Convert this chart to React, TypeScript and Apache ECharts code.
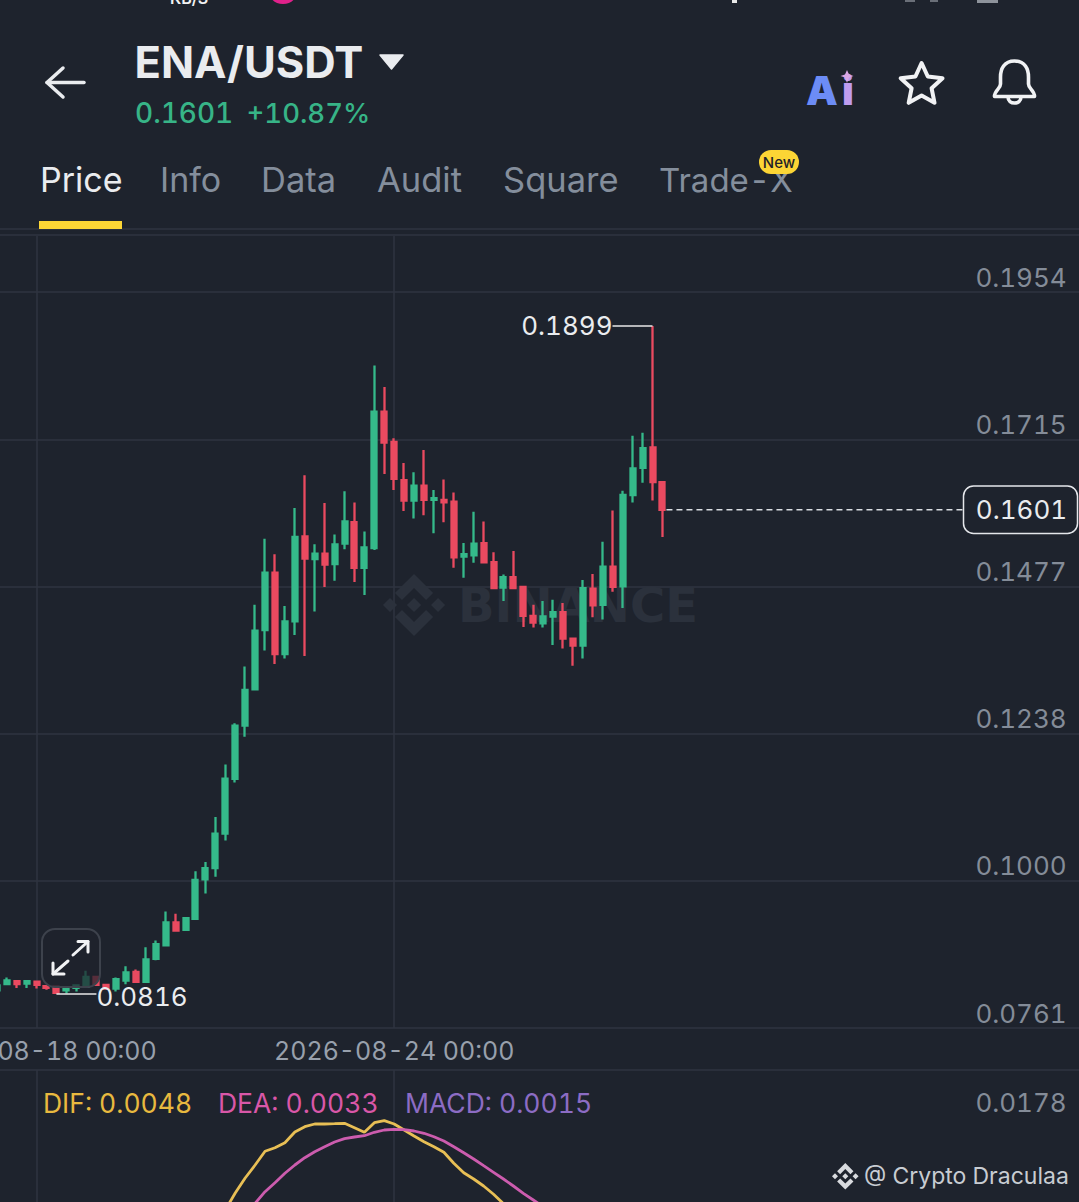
import React, { useEffect, useRef } from "react";
import * as echarts from "echarts";

const WIDTH = 1079;
const HEIGHT = 1202;
const BG = "#1E232D";
const LINE = "#2F3540";
const UP = "#35B98A";
const DOWN = "#EA4A60";
const AXIS_TEXT = "#848C98";
const FONT = "Inter";

// [open, close, low, high], one candle every 4 hours
const ohlc: number[][] = [
  [0.0822, 0.083, 0.0821, 0.083],
  [0.0832, 0.0838, 0.0832, 0.0843],
  [0.0837, 0.0832, 0.0826, 0.0838],
  [0.0833, 0.0837, 0.0826, 0.0837],
  [0.0836, 0.0831, 0.0825, 0.0837],
  [0.0829, 0.0826, 0.0823, 0.083],
  [0.0828, 0.0818, 0.0816, 0.0829],
  [0.0822, 0.0826, 0.0817, 0.0826],
  [0.0826, 0.083, 0.082, 0.083],
  [0.0828, 0.0844, 0.0827, 0.0854],
  [0.0844, 0.0831, 0.083, 0.0844],
  [0.0831, 0.0825, 0.0824, 0.0832],
  [0.0825, 0.084, 0.082, 0.0843],
  [0.0838, 0.0851, 0.0832, 0.0861],
  [0.0852, 0.0836, 0.0835, 0.0856],
  [0.0836, 0.0872, 0.0836, 0.0892],
  [0.0873, 0.0897, 0.0871, 0.0903],
  [0.0895, 0.0932, 0.0895, 0.095],
  [0.0932, 0.0919, 0.0917, 0.0946],
  [0.092, 0.0939, 0.092, 0.094],
  [0.0938, 0.1001, 0.0938, 0.1015],
  [0.1002, 0.102, 0.0979, 0.103],
  [0.102, 0.1076, 0.1006, 0.1103],
  [0.1076, 0.1165, 0.1065, 0.1188],
  [0.1165, 0.1251, 0.1159, 0.1255],
  [0.1251, 0.1309, 0.1233, 0.1347],
  [0.131, 0.1405, 0.131, 0.1447],
  [0.1406, 0.1499, 0.1373, 0.1554],
  [0.1499, 0.1367, 0.1351, 0.1529],
  [0.1367, 0.142, 0.136, 0.1445],
  [0.142, 0.1557, 0.1398, 0.1604],
  [0.1558, 0.1522, 0.1364, 0.1657],
  [0.1521, 0.153, 0.1436, 0.1545],
  [0.153, 0.1512, 0.1476, 0.1612],
  [0.1513, 0.1545, 0.1486, 0.1561],
  [0.1546, 0.1582, 0.1537, 0.1631],
  [0.1581, 0.1507, 0.1484, 0.1613],
  [0.1507, 0.154, 0.1463, 0.1566],
  [0.1539, 0.176, 0.1536, 0.1835],
  [0.176, 0.171, 0.1659, 0.18],
  [0.1711, 0.1651, 0.1633, 0.1717],
  [0.1649, 0.1616, 0.1599, 0.1677],
  [0.1616, 0.164, 0.1587, 0.1662],
  [0.164, 0.1617, 0.1592, 0.1698],
  [0.1617, 0.162, 0.1563, 0.1633],
  [0.1617, 0.1613, 0.1581, 0.165],
  [0.1614, 0.1524, 0.1507, 0.1629],
  [0.1525, 0.1529, 0.1491, 0.1547],
  [0.1527, 0.1546, 0.1515, 0.1598],
  [0.1547, 0.1516, 0.1515, 0.1582],
  [0.1516, 0.1474, 0.1472, 0.1532],
  [0.1475, 0.1492, 0.1453, 0.1496],
  [0.1492, 0.1474, 0.1472, 0.1534],
  [0.1476, 0.1429, 0.1411, 0.1477],
  [0.1429, 0.1418, 0.141, 0.1447],
  [0.1417, 0.1428, 0.141, 0.1453],
  [0.1428, 0.1435, 0.1382, 0.1455],
  [0.1435, 0.1392, 0.1376, 0.145],
  [0.1392, 0.1381, 0.1348, 0.1393],
  [0.1381, 0.1474, 0.136, 0.1487],
  [0.1473, 0.1446, 0.1427, 0.1497],
  [0.1447, 0.1509, 0.1423, 0.1549],
  [0.1509, 0.1476, 0.1468, 0.16],
  [0.1477, 0.1625, 0.1442, 0.1632],
  [0.1625, 0.1668, 0.1613, 0.1721],
  [0.1669, 0.1701, 0.1645, 0.1726],
  [0.1702, 0.1646, 0.1616, 0.1899],
  [0.1646, 0.1601, 0.1557, 0.1646],
];

// MACD pane, first value belongs to candle 23
const MACD_START = 23;
const difValues = [
  0.0085, 0.0102, 0.0117, 0.013, 0.01437, 0.01473, 0.01523, 0.0163, 0.01683, 0.0171, 0.0171, 0.01713,
  0.01717, 0.01673, 0.01627, 0.01723, 0.01743, 0.0171, 0.0165, 0.0159, 0.01533, 0.01483, 0.01427,
  0.01317, 0.01223, 0.0116, 0.0109, 0.01007, 0.00913,
];
const deaValues = [
  null, null, null, 0.00917, 0.01033, 0.01123, 0.01217, 0.013, 0.01373, 0.01433, 0.01483, 0.0153,
  0.01563, 0.0158, 0.01593, 0.01627, 0.0165, 0.01657, 0.01653, 0.0164, 0.01617, 0.01583, 0.0154,
  0.01483, 0.01423, 0.0136, 0.01293, 0.01227, 0.0116, 0.0109, 0.01017, 0.0095, 0.00883,
];

const priceTicks = [0.0761, 0.1, 0.1238, 0.1477, 0.1715, 0.1954];
const macdTicks = [0.0178];
const dateTickIndexes = [4, 40];
const lastPrice = 0.1601;
const highPrice = 0.1899;
const lowPrice = 0.0816;
const tabs: [string, number, number][] = [
  ["Price", 40, 34],
  ["Info", 160, 34],
  ["Data", 261, 34.5],
  ["Audit", 377, 34.5],
  ["Square", 503, 34.5],
  ["Trade-X", 659, 33],
];
const macdLegend: [string, number, string][] = [
  ["DIF: 0.0048", 43, "#E8B93F"],
  ["DEA: 0.0033", 218, "#D957A8"],
  ["MACD: 0.0015", 405, "#8C6CC4"],
];

const SLOT_COUNT = 110;
const pad = (n: number) => String(n).padStart(2, "0");
const categories: string[] = [];
for (let i = 0; i < SLOT_COUNT; i++) {
  const hours = 8 + i * 4;
  categories.push(`2026-08-${pad(17 + Math.floor(hours / 24))} ${pad(hours % 24)}:00`);
}
const pad2 = (arr: (number | null)[], start: number) => {
  const out: (number | null)[] = [];
  for (let i = 0; i < start; i++) out.push(null);
  return out.concat(arr);
};

const BINANCE_D =
  "M38.73 53.2l24.59-24.58 24.6 24.6 14.3-14.31L63.32 0 24.43 38.9zM0 63.31l14.3-14.31 14.31 14.31-14.31 14.3zM38.73 73.41l24.59 24.59 24.6-24.6 14.31 14.29-38.9 38.91-38.91-38.88zM98.03 63.31l14.3-14.31 14.31 14.3-14.31 14.31zM77.83 63.3L63.32 48.78 52.59 59.51l-1.24 1.23-2.54 2.54 14.51 14.5 14.51-14.47z";
const BELL_D =
  "M21.5 2C11 2 7.5 10 7.5 18V25C7.5 30 1.5 31 1.5 37.5H41.5C41.5 31 35.5 30 35.5 25V18C35.5 10 32 2 21.5 2ZM15 38C15 46 28 46 28 38";
echarts.graphic.registerShape("binanceLogo", echarts.graphic.extendPath(BINANCE_D, {}) as any);
echarts.graphic.registerShape("bellIcon", echarts.graphic.extendPath(BELL_D, {}) as any);

const txt = (
  text: string,
  x: number,
  y: number,
  size: number,
  fill: string,
  extra: Record<string, unknown> = {},
  z = 10
) => ({
  type: "text",
  x,
  y,
  z,
  silent: true,
  style: { text, fill, fontSize: size, fontFamily: FONT, align: "left", verticalAlign: "middle", ...extra },
});
const seg = (x1: number, y1: number, x2: number, y2: number, stroke: string, lineWidth: number, z = 10, extra = {}) => ({
  type: "line",
  z,
  silent: true,
  shape: { x1, y1, x2, y2 },
  style: { stroke, lineWidth, lineCap: "round", ...extra },
});
const poly = (points: number[][], stroke: string, lineWidth: number, z = 10) => ({
  type: "polyline",
  z,
  silent: true,
  shape: { points },
  style: { stroke, lineWidth, fill: "none", lineCap: "round", lineJoin: "round" },
});

function starPoints(cx: number, cy: number, R: number, r: number) {
  const pts: number[][] = [];
  for (let i = 0; i < 10; i++) {
    const rad = i % 2 === 0 ? R : r;
    const a = -Math.PI / 2 + (i * Math.PI) / 5;
    pts.push([cx + rad * Math.cos(a), cy + rad * Math.sin(a)]);
  }
  return pts;
}

export default function App() {
  const ref = useRef<HTMLDivElement>(null);
  useEffect(() => {
    document.body.style.margin = "0";
    document.body.style.background = BG;
    const chart = echarts.init(ref.current!, null, { renderer: "svg", width: WIDTH, height: HEIGHT });
    const xCommon = {
      type: "category",
      data: categories,
      boundaryGap: true,
      axisLine: { show: false },
      axisTick: { show: false },
      splitLine: {
        show: true,
        interval: (i: number) => dateTickIndexes.includes(i),
        alignWithLabel: true,
        lineStyle: { color: LINE, width: 1.5 },
      },
    };
    const yCommon = (ticks: number[]) => ({
      type: "value",
      position: "right",
      scale: true,
      axisLine: { show: false },
      axisTick: {
        show: false,
        customValues: ticks,
      },
      splitLine: { show: false },
      axisLabel: {
        inside: true,
        customValues: ticks,
        margin: 18,
        color: AXIS_TEXT,
        fontSize: 26,
        fontFamily: FONT,
        verticalAlign: "bottom",
        padding: [0, 0, 2, 0],
        formatter: (v: number) => v.toFixed(4),
      },
    });
    chart.setOption({
      animation: false,
      backgroundColor: BG,
      grid: [
        { left: -8.17, top: 236, width: SLOT_COUNT * 9.935, height: 792, outerBoundsMode: "none" },
        { left: -8.17, top: 1070, width: SLOT_COUNT * 9.935, height: 132, outerBoundsMode: "none" },
      ],
      xAxis: [
        {
          ...xCommon,
          gridIndex: 0,
          axisLabel: {
            interval: (i: number) => dateTickIndexes.includes(i),
            color: "#98A0AC",
            fontSize: 25,
            fontFamily: FONT,
            margin: 10,
            hideOverlap: false,
          },
        },
        { ...xCommon, gridIndex: 1, axisLabel: { show: false } },
      ],
      yAxis: [
        {
          ...yCommon(priceTicks),
          gridIndex: 0,
          min: 0.0761,
          max: 0.20448,
          axisTick: {
            show: true,
            inside: true,
            customValues: priceTicks,
            length: 1100,
            lineStyle: { color: LINE, width: 1.5 },
          },
        },
        { ...yCommon(macdTicks), gridIndex: 1, min: 0.0093, max: 0.0225 },
      ],
      series: [
        {
          name: "ENA/USDT",
          type: "candlestick",
          xAxisIndex: 0,
          yAxisIndex: 0,
          z: 3,
          barWidth: 5.5,
          data: ohlc,
          itemStyle: { color: UP, color0: DOWN, borderColor: UP, borderColor0: DOWN, borderWidth: 2.3 },
        },
        {
          name: "DIF",
          type: "line",
          xAxisIndex: 1,
          yAxisIndex: 1,
          showSymbol: false,
          lineStyle: { color: "#E8BF55", width: 2.8 },
          data: pad2(difValues, MACD_START),
        },
        {
          name: "DEA",
          type: "line",
          xAxisIndex: 1,
          yAxisIndex: 1,
          showSymbol: false,
          lineStyle: { color: "#CC5CAE", width: 2.8 },
          data: pad2(deaValues, MACD_START),
        },
      ],
    });

    const px = (i: number, v: number) => chart.convertToPixel({ xAxisIndex: 0, yAxisIndex: 0 }, [i, v]) as number[];
    const hi = px(66, highPrice);
    const lo = px(6, lowPrice);
    const last = px(67, lastPrice);

    const elements: any[] = [
      // rules
      seg(0, 229, WIDTH, 229, LINE, 1.5, 1, { lineCap: "butt" }),
      seg(0, 235, WIDTH, 235, LINE, 1.5, 1, { lineCap: "butt" }),
      seg(0, 1070, WIDTH, 1070, LINE, 1.5, 1, { lineCap: "butt" }),
      // status bar remnants
      txt("KB/S", 170, 6, 16, "#F2F2F2", { fontWeight: 600, verticalAlign: "bottom" }),
      { type: "ellipse", z: 10, silent: true, shape: { cx: 283, cy: -6, rx: 13, ry: 10 }, style: { fill: "#E0218A" } },
      { type: "rect", z: 10, silent: true, shape: { x: 732, y: 0, width: 5, height: 3 }, style: { fill: "#E8E8E8" } },
      { type: "rect", z: 10, silent: true, shape: { x: 977, y: 0, width: 21, height: 3 }, style: { fill: "#8E939B" } },
      { type: "rect", z: 10, silent: true, shape: { x: 905, y: 0, width: 10, height: 2 }, style: { fill: "#6A6F78" } },
      { type: "rect", z: 10, silent: true, shape: { x: 930, y: 0, width: 8, height: 2 }, style: { fill: "#6A6F78" } },
      // header
      poly([[63, 68], [47, 82.5], [63, 97]], "#EAECEF", 3.5),
      seg(47, 82.5, 84, 82.5, "#EAECEF", 3.5),
      txt("ENA/USDT", 134.5, 61.5, 43.5, "#EAECEF", { fontWeight: 700 }),
      { type: "polygon", z: 10, silent: true, shape: { points: [[380, 55], [403, 55], [391.5, 69]] }, style: { fill: "#EAECEF", stroke: "#EAECEF", lineWidth: 1.5, lineJoin: "round" } },
      txt("0.1601", 135, 113, 28, "#37B487", { fontWeight: 500 }),
      txt("+10.87%", 246.5, 113, 27.5, "#37B487", { fontWeight: 500 }),
      txt("A", 806, 90, 40, "#6C8CF6", { fontWeight: 900 }),
      txt("i", 842, 90, 40, "#BF9CEE", { fontWeight: 900 }),
      { type: "polygon", z: 10, silent: true, shape: { points: [[847, 70], [849, 74.5], [853.5, 76], [849, 77.5], [847, 83], [845, 77.5], [840.5, 76], [845, 74.5]] }, style: { fill: "#D9A6E6" } },
      { type: "polygon", z: 10, silent: true, shape: { points: starPoints(921.6, 85, 22, 10.5) }, style: { fill: "none", stroke: "#F1F2F4", lineWidth: 4, lineJoin: "round" } },
      { type: "bellIcon", z: 10, silent: true, x: 993, y: 59, style: { fill: "none", stroke: "#F1F2F4", lineWidth: 3.6, lineJoin: "round" } },
      // tabs
      ...tabs.map(([t, x, s], i) => txt(t, x, 179.5, s, i === 0 ? "#EAECEF" : "#848E9C", { fontWeight: 400 })),
      { type: "rect", z: 10, silent: true, shape: { x: 39, y: 221, width: 83, height: 8 }, style: { fill: "#FCD535" } },
      { type: "rect", z: 11, silent: true, shape: { x: 759, y: 150, width: 40, height: 24, r: 12 }, style: { fill: "#FCD535" } },
      txt("New", 779, 162, 15, "#1E2329", { align: "center", fontWeight: 500 }, 12),
      // watermark
      { type: "binanceLogo", z: 1, silent: true, x: 383, y: 574, scaleX: 0.49, scaleY: 0.49, style: { fill: "#2B313C" } },
      txt("BINANCE", 458, 605, 48, "#2B313C", { fontWeight: 700, fontFamily: "DejaVu Sans" }, 1),
      // high / low / last price marks
      seg(hi[0] - 40, hi[1], hi[0], hi[1], "#E8E8E8", 1.5, 10, { lineCap: "butt" }),
      txt(highPrice.toFixed(4), hi[0] - 40, hi[1], 26, "#EAECEF", { align: "right" }),
      seg(lo[0], lo[1], lo[0] + 40, lo[1], "#E8E8E8", 1.5, 12, { lineCap: "butt" }),
      txt(lowPrice.toFixed(4), lo[0] + 40, lo[1] + 2, 26, "#EAECEF", {}, 12),
      seg(last[0] + 4, last[1], 963, last[1], "#DADDE2", 1.5, 10, { lineDash: [6, 4], lineCap: "butt" }),
      { type: "rect", z: 11, silent: true, shape: { x: 963.5, y: 486, width: 114, height: 47.5, r: 10 }, style: { fill: BG, stroke: "#E5E7EB", lineWidth: 1.5 } },
      txt(lastPrice.toFixed(4), 1021.5, last[1], 26, "#EAECEF", { align: "center" }, 12),
      // expand button
      { type: "rect", z: 11, silent: true, shape: { x: 42, y: 929, width: 58, height: 58, r: 13 }, style: { fill: "rgba(30,35,45,0.72)", stroke: "#3D424C", lineWidth: 2 } },
      poly([[53, 963], [53, 974], [64, 974]], "#F1F2F4", 3, 12),
      seg(53, 974, 68, 961, "#F1F2F4", 3, 12),
      poly([[78, 941.5], [88, 941.5], [88, 952]], "#F1F2F4", 3, 12),
      seg(88, 941.5, 73, 955, "#F1F2F4", 3, 12),
      // MACD legend
      ...macdLegend.map(([t, x, c]) => txt(t, x, 1103, 26.5, c)),
      // attribution
      { type: "binanceLogo", z: 12, silent: true, x: 832, y: 1163, scaleX: 0.21, scaleY: 0.21, style: { fill: "#D9DBDF" } },
      txt("@ Crypto Draculaa", 864, 1176, 23, "#C8CCD2", {}, 12),
    ];
    chart.setOption({ graphic: { elements } });
    return () => chart.dispose();
  }, []);
  return (
    <div
      ref={ref}
      style={{
        position: "fixed",
        left: 0,
        top: 0,
        width: WIDTH,
        height: HEIGHT,
        background: BG,
        fontFeatureSettings: '"tnum"',
      }}
    />
  );
}
